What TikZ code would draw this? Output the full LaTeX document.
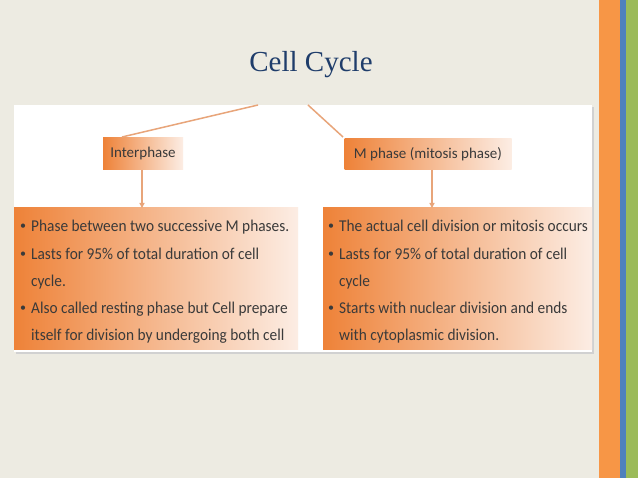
\documentclass[tikz,border=0pt]{standalone}
\usepackage{fontspec}
\setmainfont{Carlito}
\newfontfamily\titlefont{Liberation Serif}
\usetikzlibrary{arrows.meta}
\definecolor{bg}{HTML}{EDEBE2}
\definecolor{orgdark}{HTML}{EE8238}
\definecolor{peach}{HTML}{FCEDE4}
\definecolor{stripeo}{HTML}{F79646}
\definecolor{stripeb}{HTML}{4F81BD}
\definecolor{stripeg}{HTML}{9BBB59}
\definecolor{titleblue}{HTML}{1F3D6B}
\definecolor{linec}{HTML}{E8A57A}
\definecolor{txt}{HTML}{3A3A3A}
\tikzset{
  hbox/.style={left color=orgdark, right color=peach, draw=none, inner sep=0pt, text=txt, font=\fontsize{15}{17}\selectfont},
  tbox/.style={left color=orgdark, right color=peach, draw=none},
  conn/.style={draw=linec, line width=1.5pt},
  arr/.style={conn, -{Triangle[width=5pt,length=5pt]}},
  item/.style={anchor=base west, inner sep=0pt, text=txt, font=\fontsize{16.5}{18}\selectfont, xscale=0.93, transform shape},
  bul/.style={anchor=base west, inner sep=0pt, text=txt, font=\fontsize{12}{14}\selectfont},
}
\begin{document}
\begin{tikzpicture}[x=1pt,y=-1pt]
\useasboundingbox (0,0) rectangle (638,478);
\fill[bg] (0,0) rectangle (638,478);
\fill[stripeo] (599,0) rectangle (620,478);
\fill[stripeb] (620,0) rectangle (626,478);
\fill[stripeg] (626,0) rectangle (638,478);
\node[text=titleblue, font=\titlefont\fontsize{29}{32}\selectfont] (title) at (311,65) {Cell Cycle};
\fill[black!18] (16,107) rectangle (594,354);
\fill[white] (14,105) rectangle (592,352);
\coordinate (top1) at (258,105);
\coordinate (top2) at (308,105);
\node[hbox, minimum width=80pt, minimum height=32pt] (inter) at (143,154) {Interphase};
\node[hbox, minimum width=167pt, minimum height=31pt] (mph) at (428,154.5) {M phase (mitosis phase)};
\draw[conn] (top1) -- (122,137);
\draw[conn] (top2) -- (343,137);
\shade[tbox] (14,208) rectangle (298,350);
\shade[tbox] (323,208) rectangle (592,350);
\coordinate (l) at (142,208);
\coordinate (r) at (432,208);
\draw[arr] (142,170) -- (l);
\draw[arr] (432,170) -- (r);
\foreach \y/\b/\t in {232/1/{Phase between two successive M phases.},260/1/{Lasts for 95\% of total duration of cell},287/0/{cycle.},314/1/{Also called resting phase but Cell prepare},341/0/{itself for division by undergoing both cell}}{
  \ifnum\b=1 \node[bul] at (20,\y-2) {•};\fi
  \node[item] at (31,\y) {\t};
}
\foreach \y/\b/\t in {232/1/{The actual cell division or mitosis occurs},260/1/{Lasts for 95\% of total duration of cell},287/0/{cycle},314/1/{Starts with nuclear division and ends},341/0/{with cytoplasmic division.}}{
  \ifnum\b=1 \node[bul] at (328,\y-2) {•};\fi
  \node[item] at (339,\y) {\t};
}
\end{tikzpicture}
\end{document}
